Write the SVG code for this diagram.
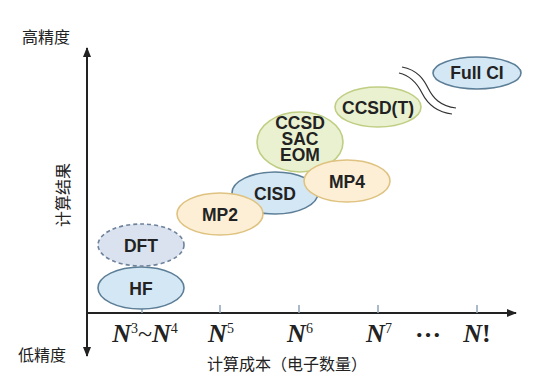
<svg xmlns="http://www.w3.org/2000/svg" width="544" height="381" viewBox="0 0 544 381">
<defs>
<marker id="ah" viewBox="0 0 10 10" refX="9" refY="5" markerWidth="10" markerHeight="10" markerUnits="userSpaceOnUse" orient="auto">
<path d="M0,1 L10,5 L0,9 Z" fill="#222"/>
</marker>
<style>
.cn{font-family:"Noto Sans CJK SC","Noto Sans",sans-serif;fill:#222}
.lb{font-family:"Liberation Sans",Arial,sans-serif;font-weight:bold;font-size:17.5px;fill:#222;text-anchor:middle}
.blue{fill:#d4e7f4;stroke:#5c7e97;stroke-width:1.6}
.dft{fill:#d9e2ee;stroke:#6e829c;stroke-width:1.6;stroke-dasharray:4 3}
.org{fill:#fcefd5;stroke:#dfc280;stroke-width:1.6}
.grn{fill:#e9f1d0;stroke:#bfce83;stroke-width:1.6}
.tick{stroke:#8ea3bd;stroke-width:1.5}
.nl{font-family:"Liberation Serif","Times New Roman",serif;font-size:26px;fill:#222;text-anchor:middle}
.nl .n{font-style:italic;font-weight:bold}
.nl .s{font-size:14px}
.wave{fill:none;stroke:#333;stroke-width:1.2}
</style>
</defs>
<g id="axes">
<line x1="87" y1="313" x2="87" y2="48" stroke="#222" stroke-width="2" marker-end="url(#ah)"/>
<line x1="87" y1="313" x2="87" y2="356" stroke="#222" stroke-width="2" marker-end="url(#ah)"/>
<line x1="86" y1="313" x2="516" y2="313" stroke="#222" stroke-width="2" marker-end="url(#ah)"/>
<line class="tick" x1="142" y1="305" x2="142" y2="313"/>
<line class="tick" x1="220" y1="305" x2="220" y2="313"/>
<line class="tick" x1="299" y1="305" x2="299" y2="313"/>
<line class="tick" x1="378" y1="305" x2="378" y2="313"/>
<line class="tick" x1="477" y1="305" x2="477" y2="313"/>
</g>
<g id="axis-labels">
<text class="cn" x="22" y="43" font-size="16">高精度</text>
<text class="cn" x="18" y="361" font-size="16">低精度</text>
<text class="cn" x="287" y="370" font-size="16" text-anchor="middle">计算成本（电子数量）</text>
<text class="cn" transform="translate(69,195) rotate(-90)" font-size="16" text-anchor="middle">计算结果</text>
<text class="nl" x="145" y="342"><tspan class="n">N</tspan><tspan class="s" dy="-9">3</tspan><tspan dy="9">~</tspan><tspan class="n">N</tspan><tspan class="s" dy="-9">4</tspan></text>
<text class="nl" x="221" y="342"><tspan class="n">N</tspan><tspan class="s" dy="-9">5</tspan></text>
<text class="nl" x="300" y="342"><tspan class="n">N</tspan><tspan class="s" dy="-9">6</tspan></text>
<text class="nl" x="379" y="342"><tspan class="n">N</tspan><tspan class="s" dy="-9">7</tspan></text>
<text class="nl" x="428" y="337" font-weight="bold">…</text>
<text class="nl" x="477" y="342"><tspan class="n">N</tspan><tspan font-weight="bold">!</tspan></text>
</g>
<g id="connectors">
<path class="wave" d="M402,67 C418,70 424,80 428,88 C433,98 440,106 456,108"/>
<path class="wave" d="M399,73 C412,76 418,85 422,93 C427,103 435,112 452,114"/>
</g>
<g id="node-hf"><ellipse class="blue" cx="141" cy="288" rx="43" ry="21"/><text class="lb" x="141" y="295">HF</text></g>
<g id="node-dft"><ellipse class="dft" cx="141" cy="245" rx="43" ry="21"/><text class="lb" x="141" y="252">DFT</text></g>
<g id="node-cisd"><ellipse class="blue" cx="275" cy="193" rx="43" ry="21"/><text class="lb" x="275" y="200">CISD</text></g>
<g id="node-mp2"><ellipse class="org" cx="220" cy="214" rx="43" ry="21"/><text class="lb" x="220" y="221">MP2</text></g>
<g id="node-ccsd"><ellipse class="grn" cx="300" cy="142" rx="43" ry="30"/><text class="lb" font-size="17"><tspan x="300" y="129">CCSD</tspan><tspan x="300" y="145">SAC</tspan><tspan x="300" y="161">EOM</tspan></text></g>
<g id="node-mp4"><ellipse class="org" cx="347" cy="181" rx="43" ry="21"/><text class="lb" x="347" y="188">MP4</text></g>
<g id="node-ccsdt"><ellipse class="grn" cx="378" cy="107" rx="43" ry="20"/><text class="lb" x="378" y="114">CCSD(T)</text></g>
<g id="node-fullci"><ellipse class="blue" cx="477" cy="73" rx="44" ry="16"/><text class="lb" x="477" y="79" font-size="15">Full CI</text></g>
</svg>
